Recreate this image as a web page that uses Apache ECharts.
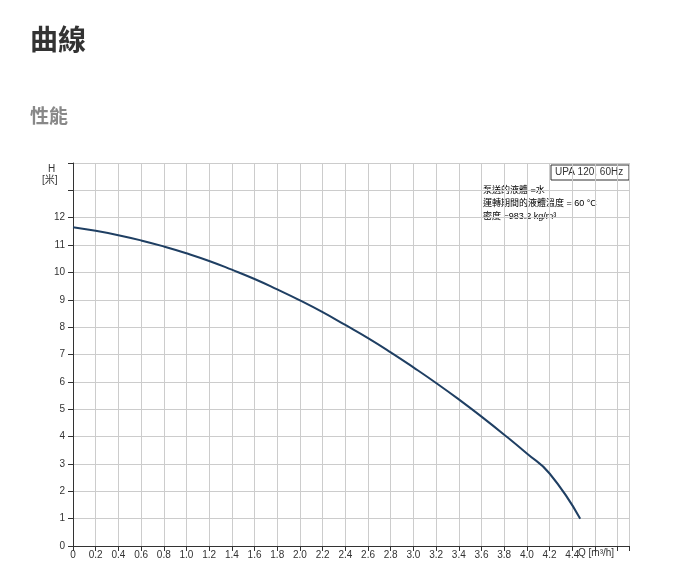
<!DOCTYPE html><html><head><meta charset="utf-8">
<script src="https://cdn.jsdelivr.net/npm/echarts@6/dist/echarts.min.js"></script>
<style>body{margin:0;background:#fff}#c{width:694px;height:573px}</style></head><body><div id="c"></div>
<script>
const flowQ=[0,0.2,0.4,0.6,0.8,1.0,1.2,1.4,1.6,1.8,2.0,2.2,2.4,2.6,2.8,3.0,3.2,3.4,3.6,3.8,4.0,4.2,4.47];
const headH=[11.65,11.52,11.36,11.17,10.95,10.7,10.42,10.1,9.76,9.38,8.98,8.55,8.08,7.6,7.08,6.53,5.96,5.36,4.73,4.07,3.38,2.65,1.0];
const yLabelMax=12;
const xLabelMax=4.4;
const chart=echarts.init(document.getElementById('c'));
const f='Arial, Liberation Sans, Noto Sans CJK TC, sans-serif';
chart.setOption({
 animation:false,
 grid:{left:73,right:65,top:163,bottom:27},
 xAxis:{type:'value',min:0,max:4.9,interval:0.2,
  axisLine:{lineStyle:{color:'#333'}},axisTick:{lineStyle:{color:'#333'}},
  axisLabel:{color:'#333',fontSize:10,fontFamily:f,margin:4,formatter:v=>v>xLabelMax+1e-9?'':(v===0?'0':v.toFixed(1))},
  splitLine:{lineStyle:{color:'#ccc'}}},
 yAxis:{type:'value',min:0,max:14,interval:1,
  axisLine:{show:true,lineStyle:{color:'#333'}},axisTick:{show:true,lineStyle:{color:'#333'}},
  axisLabel:{color:'#333',fontSize:10,fontFamily:f,formatter:v=>v>yLabelMax?'':String(v)},
  splitLine:{lineStyle:{color:'#ccc'}}},
 graphic:[
  {type:'text',left:30,top:28,style:{text:'曲線',font:'bold 28px '+f,fill:'#333'}},
  {type:'text',left:30,top:108,style:{text:'性能',font:'bold 19px '+f,fill:'#888'}},
  {type:'text',left:48,top:164,style:{text:'H',font:'10px '+f,fill:'#333'}},
  {type:'text',left:42,top:175,style:{text:'[米]',font:'10px '+f,fill:'#333'}},
  {type:'text',left:578,top:548,style:{text:'Q [m³/h]',font:'10px '+f,fill:'#333'}},
  {type:'rect',shape:{x:551,y:165,width:78,height:15},style:{fill:'#fff',stroke:'#333',lineWidth:1}},
  {type:'text',left:555,top:167,style:{text:'UPA 120, 60Hz',font:'10px '+f,fill:'#333'}},
  {type:'text',left:483,top:184,style:{text:'泵送的液體 =水\n運轉期間的液體溫度 = 60 °C\n密度 =983.2 kg/m³',font:'9px '+f,fill:'#000',lineHeight:13}}
 ],
 series:[{type:'line',data:flowQ.map((q,i)=>[q,headH[i]]),smooth:true,showSymbol:false,
  lineStyle:{color:'#1f3f63',width:2}}]
});
</script></body></html>
